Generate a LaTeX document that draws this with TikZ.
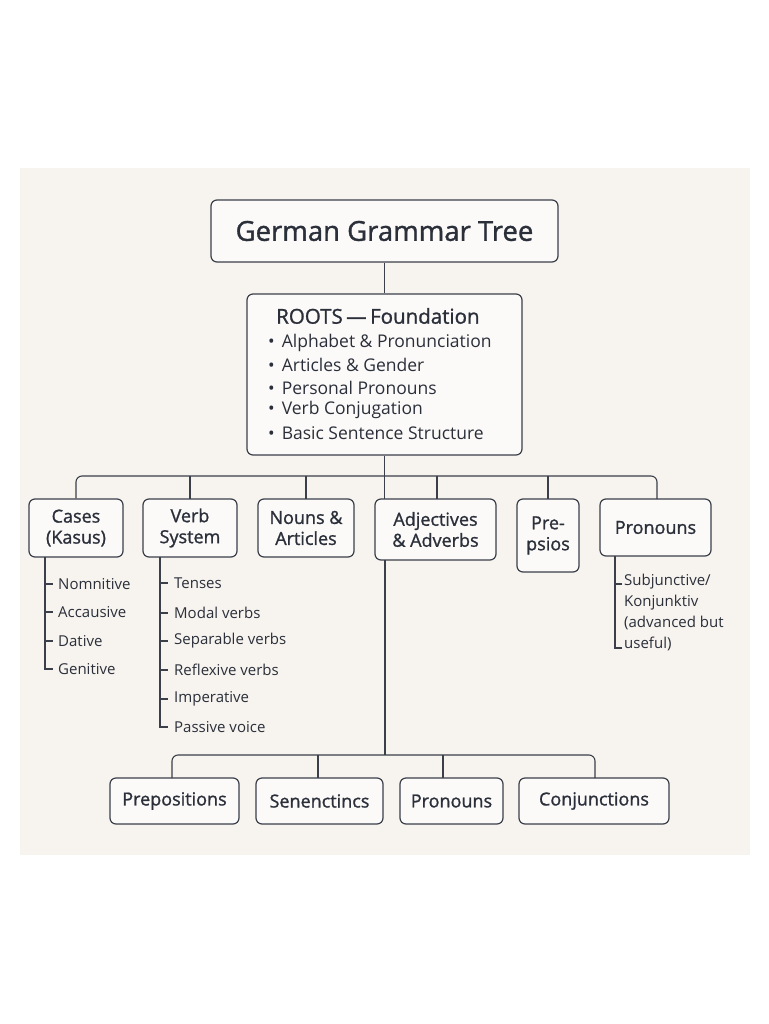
\documentclass[tikz,border=0pt]{standalone}
\usepackage{fontspec}
\setmainfont{Open Sans}
\newfontfamily\semi{Open Sans}[FakeBold=1.2]
\begin{document}
\begin{tikzpicture}[x=1pt,y=-1pt,
  ln/.style={draw=lc,line width=1.1pt},
  box/.style={draw=lc,line width=1.2pt,rounded corners=6pt,fill=white!60!bg,text=tc,align=center,inner sep=0pt},
  item/.style={text=tc,anchor=west,inner sep=0pt,font=\fontsize{15}{17}\selectfont},
  lbl/.style={font=\semi\fontsize{18}{21}\selectfont}]
\definecolor{bg}{HTML}{F7F3EE}
\definecolor{lc}{HTML}{3A3F4A}
\definecolor{tc}{HTML}{2A2F3A}
\useasboundingbox (0,0) rectangle (768,1024);
\fill[white] (0,0) rectangle (768,1024);
\fill[bg] (20,168) rectangle (750,855);
% title
\node[box,minimum width=347pt,minimum height=62pt,font=\semi\fontsize{27.5}{32}\selectfont] (title) at (384.5,231) {German Grammar Tree};
\node[box,minimum width=275pt,minimum height=161pt] (roots) at (384.5,374.5) {};
\node[text=tc,anchor=west,inner sep=0pt,font=\semi\fontsize{20.5}{24}\selectfont] (rt) at (276,316) {ROOTS\,—\,Foundation};
\foreach \t/\y [count=\i] in {Alphabet \& Pronunciation/343,Articles \& Gender/365,Personal Pronouns/388,Verb Conjugation/410,Basic Sentence Structure/433}{
  \node[text=tc,anchor=west,inner sep=0pt,font=\fontsize{17.5}{20}\selectfont] (r\i) at (268,\y) {•\hspace{7pt}\t};}
\draw[ln] (title) -- (roots);
% second row
\node[box,lbl,minimum width=94pt,minimum height=58pt] (cases) at (76,528) {Cases\\(Kasus)};
\node[box,lbl,minimum width=94pt,minimum height=58pt] (verb) at (190,528) {Verb\\System};
\node[box,lbl,minimum width=96pt,minimum height=58pt] (nouns) at (306,528) {Nouns \&\\Articles};
\node[box,lbl,minimum width=121pt,minimum height=61pt] (adj) at (435.5,529.5) {Adjectives\\\& Adverbs};
\node[box,lbl,minimum width=62pt,minimum height=73pt] (prep) at (548,535.5) {Pre-\\psios};
\node[box,lbl,minimum width=111pt,minimum height=57pt] (pron) at (655.5,527.5) {Pronouns};
\coordinate (busL) at (76,476);
\coordinate (busR) at (657,476);
\draw[ln,rounded corners=6pt] (cases.north) -- (busL) -- (busR) -- (657,499);
\draw[ln] (roots.south) -- (384.5,499);
\foreach \x in {190,306,437,548}{\draw[ln] (\x,476) -- (\x,499);}
% cases children
\draw[ln] (45,557) -- (45,669) -- (53,669);
\foreach \t/\y in {Nomnitive/584,Accausive/612,Dative/641,Genitive/669}{
  \node[item] at (58,\y) {\t};}
\foreach \y in {584,612,641}{\draw[ln] (45,\y) -- (53,\y);}
% verb children
\draw[ln] (160,557) -- (160,727) -- (168,727);
\foreach \t/\y in {Tenses/583,Modal verbs/613,Separable verbs/641,Reflexive verbs/670,Imperative/699,Passive voice/727}{
  \node[item] at (174,\y) {\t};}
\foreach \y in {583,613,641,670,699}{\draw[ln] (160,\y) -- (168,\y);}
% pronouns child
\draw[ln] (615,556) -- (615,648) -- (622,648);
\draw[ln] (615,584) -- (622,584);
\node[item,anchor=north west,align=left,font=\fontsize{15}{21}\selectfont] at (624,574) {Subjunctive/\\Konjunktiv\\(advanced but\\useful)};
% bottom row
\node[box,lbl,minimum width=129pt,minimum height=46pt] (b1) at (174.5,801) {Prepositions};
\node[box,lbl,minimum width=127pt,minimum height=46pt] (b2) at (319.5,801) {Senenctincs};
\node[box,lbl,minimum width=103pt,minimum height=46pt] (b3) at (451.5,801) {Pronouns};
\node[box,lbl,minimum width=150pt,minimum height=46pt] (b4) at (594,801) {Conjunctions};
\draw[ln] (385,560) -- (385,755);
\draw[ln,rounded corners=6pt] (172,778) -- (172,755) -- (595,755) -- (595,778);
\draw[ln] (318,755) -- (318,778);
\draw[ln] (443,755) -- (443,778);
\end{tikzpicture}
\end{document}
